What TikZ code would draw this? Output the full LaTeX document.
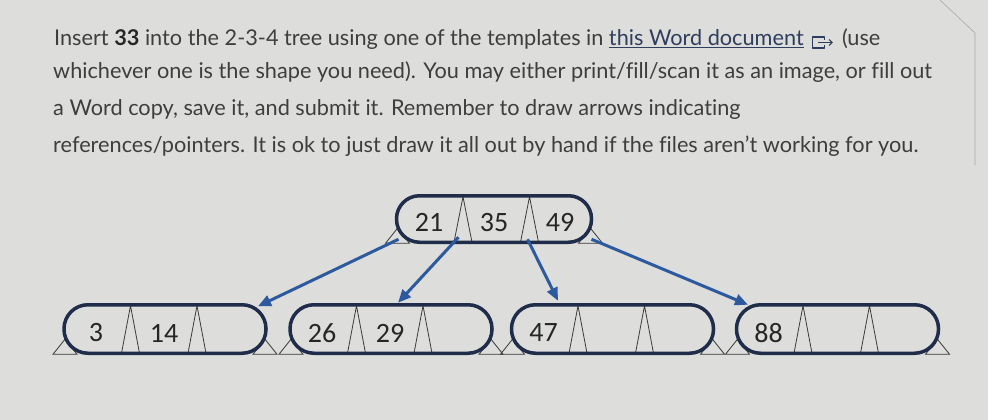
\documentclass[tikz,border=0pt]{standalone}
\usepackage{fontspec}
\setmainfont{Lato}[Ligatures=NoCommon]
\newfontfamily\numfont{Carlito}
\usetikzlibrary{arrows.meta,calc}
\definecolor{bgc}{HTML}{DDDDDB}
\definecolor{txt}{HTML}{3E3E3E}
\definecolor{navy}{HTML}{1F2C4A}
\definecolor{arr}{HTML}{2D5A9E}
\definecolor{tri}{HTML}{3A3A3A}
\definecolor{linkc}{HTML}{2F3E5E}
\definecolor{edgec}{HTML}{A9A9A9}
\pgfdeclarelayer{back}
\pgfsetlayers{back,main}
\newcommand\cellmarks[1]{%
  \begin{pgfonlayer}{back}
  \draw[trimark] ($(#1.south west)+(-11,1)$) -- ($(#1.south west)+(1,-14)$) -- ($(#1.south west)+(13,1)$) -- cycle;
  \draw[trimark] ($(#1.south east)+(11,1)$) -- ($(#1.south east)+(-1,-14)$) -- ($(#1.south east)+(-13,1)$) -- cycle;
  \draw[trimark] ($(#1.south west)+(57.5,0)$) -- ($(#1.north west)+(66.5,1)$) -- ($(#1.south west)+(75.5,0)$);
  \draw[trimark] ($(#1.south west)+(124,0)$) -- ($(#1.north west)+(133,1)$) -- ($(#1.south west)+(142,0)$);
  \end{pgfonlayer}}
\begin{document}
\begin{tikzpicture}[x=1pt,y=-1pt,
  txtline/.style={anchor=base west, inner sep=0, text=txt, font=\fontsize{21.7}{25}\selectfont},
  tnode/.style={draw=navy, line width=3.5pt, rounded corners=24pt, minimum width=202pt, minimum height=48.5pt, inner sep=0, outer sep=0},
  rootnode/.style={tnode, minimum width=195pt, minimum height=46.5pt, rounded corners=23pt},
  trimark/.style={draw=tri, line width=0.8pt, line join=miter},
  num/.style={inner sep=0, text=black!85, font=\numfont\fontsize{28}{30}\selectfont},
  ptr/.style={draw=arr, line width=3pt, -{Triangle[length=13pt,width=11pt]}},
  edgeline/.style={draw=edgec, line width=0.6pt}
]
\begin{pgfonlayer}{back}
\fill[bgc] (0,0) rectangle (988,420);
\end{pgfonlayer}
\useasboundingbox (0,0) rectangle (988,420);
\draw[edgeline] (940,0) -- (975,33) -- (975,165);

% text
\node[txtline] (t1) at (54,46) {Insert \textbf{\color{black!85}33} into the 2-3-4 tree using one of the templates in {\color{linkc}\underline{this Word document}}};
\draw[linkc, line width=1.1pt, line join=round] ($(t1.base east)+(21,-6)$) -- ($(t1.base east)+(21,-9)$) -- ($(t1.base east)+(9,-9)$) -- ($(t1.base east)+(9,2)$) -- ($(t1.base east)+(21,2)$) -- ($(t1.base east)+(21,-1)$);
\draw[linkc, line width=1.1pt, -{Straight Barb[length=3pt,width=6pt]}] ($(t1.base east)+(14,-3.5)$) -- ($(t1.base east)+(29,-3.5)$);
\node[txtline, anchor=base west] (t1b) at ($(t1.base east)+(38,0)$) {(use};
\node[txtline] (t2) at (53,78) {whichever one is the shape you need). You may either print/fill/scan it as an image, or fill out};
\node[txtline] (t3) at (53,115) {a Word copy, save it, and submit it. Remember to draw arrows indicating};
\node[txtline] (t4) at (53,152) {references/pointers. It is ok to just draw it all out by hand if the files aren't working for you.};

% tree
\node[rootnode] (root) at (494,219) {};
\node[tnode] (l1) at (165,329) {};
\node[tnode] (l2) at (391,329) {};
\node[tnode] (l3) at (612.5,329) {};
\node[tnode] (l4) at (837.5,329) {};
\cellmarks{root}
\cellmarks{l1}
\cellmarks{l2}
\cellmarks{l3}
\cellmarks{l4}

\node[num] at ($(root.west)+(32.5,3.5)$) {21};
\node[num] at ($(root.west)+(97.5,3.5)$) {35};
\node[num] at ($(root.west)+(163.5,3.5)$) {49};
\node[num] at ($(l1.west)+(32,4)$) {3};
\node[num] at ($(l1.west)+(100,4)$) {14};
\node[num] at ($(l2.west)+(32,4)$) {26};
\node[num] at ($(l2.west)+(100,4)$) {29};
\node[num] at ($(l3.west)+(32,4)$) {47};
\node[num] at ($(l4.west)+(32,4)$) {88};

\draw[ptr] ($(root.south west)+(2,-3)$) -- ($(l1.north east)+(-8,1.5)$);
\draw[ptr] ($(root.south west)+(62,-5)$) -- ($(l2.north)+(7,-2)$);
\draw[ptr] ($(root.south west)+(131,-3)$) -- ($(l3.north)+(-54.5,-4)$);
\draw[ptr] ($(root.south east)+(0,-3)$) -- ($(l4.north west)+(11.5,0)$);
\end{tikzpicture}
\end{document}
